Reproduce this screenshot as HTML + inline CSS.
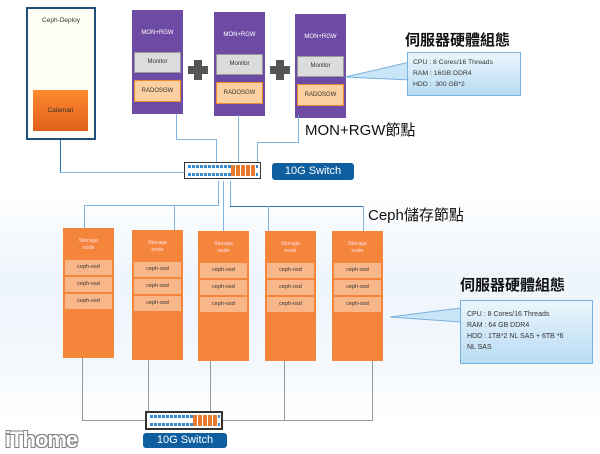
<!DOCTYPE html>
<html><head><meta charset="utf-8"><style>
body{margin:0;width:600px;height:454px;position:relative;overflow:hidden;font-family:"Liberation Sans","Noto Sans CJK TC",sans-serif;background:linear-gradient(#fff 0,#fff 190px,#eef5fb 280px,#f3f8fc 360px,#fff 420px)}
.a{position:absolute}
.mon{position:absolute;width:51px;height:104px;background:#6d4aa3;color:#fff;font-size:6px;text-align:center}
.mon .t{position:absolute;top:20px;width:100%}
.mon .m{position:absolute;left:2px;right:2px;top:42px;height:19px;background:#dcdcdc;border:1px solid #999;color:#333;line-height:19px}
.mon .r{position:absolute;left:2px;right:2px;top:70px;height:20px;background:#fcd0a0;border:1px solid #f08a30;color:#333;line-height:20px}
.sn{position:absolute;width:51px;height:130px;background:#f5853a;color:#fff;font-size:5.5px;text-align:center}
.sn .t{position:absolute;top:10px;width:100%;line-height:7px;color:#fde}
.sn .o{position:absolute;left:2px;right:2px;height:15px;background:#f9b688;color:#333;line-height:15px}
.plus{position:absolute;width:20px;height:20px}
.plus:before{content:"";position:absolute;left:6px;top:0;width:8px;height:20px;background:#555}
.plus:after{content:"";position:absolute;left:0;top:6px;width:20px;height:8px;background:#555}
.l{position:absolute;background:#7fb3e0}
.g{position:absolute;background:#999}
.sw{position:absolute;width:77px;height:17px;background:#fff;border:1.5px solid #333;box-sizing:border-box}
.lbl{position:absolute;background:#0f5e9f;color:#fff;font-size:11px;text-align:center;border-radius:3px;line-height:17px}
.box{position:absolute;background:linear-gradient(#eaf6fc,#b9dcf3);border:1px solid #7ab0dd;font-size:7px;color:#333;line-height:11px;padding:4px 5px;box-sizing:border-box}
</style></head><body>
<div class="a" style="left:26px;top:7px;width:70px;height:133px;border:2px solid #1f4e79;box-sizing:border-box;background:#fffef5"></div>
<div class="a" style="left:26px;top:17px;width:70px;text-align:center;font-size:6.5px;color:#333">Ceph-Deploy</div>
<div class="a" style="left:33px;top:90px;width:55px;height:41px;background:linear-gradient(#ff8a30,#e0601a);color:#333;font-size:6.5px;text-align:center;line-height:41px">Calamari</div>

<div class="mon" style="left:132px;top:10px"><div class="t">MON+RGW</div><div class="m">Monitor</div><div class="r">RADOSGW</div></div>
<div class="mon" style="left:214px;top:12px"><div class="t">MON+RGW</div><div class="m">Monitor</div><div class="r">RADOSGW</div></div>
<div class="mon" style="left:295px;top:14px"><div class="t">MON+RGW</div><div class="m">Monitor</div><div class="r">RADOSGW</div></div>
<div class="plus" style="left:188px;top:60px"></div>
<div class="plus" style="left:270px;top:60px"></div>

<div class="l" style="left:60px;top:140px;width:1px;height:33px;background:#2e75b6"></div>
<div class="l" style="left:60px;top:172px;width:124px;height:1px"></div>
<div class="l" style="left:176px;top:114px;width:1px;height:26px"></div>
<div class="l" style="left:176px;top:139px;width:40px;height:1px"></div>
<div class="l" style="left:216px;top:139px;width:1px;height:24px"></div>
<div class="l" style="left:238px;top:115px;width:1px;height:48px"></div>
<div class="l" style="left:298px;top:115px;width:1px;height:28px"></div>
<div class="l" style="left:257px;top:142px;width:42px;height:1px"></div>
<div class="l" style="left:257px;top:142px;width:1px;height:21px"></div>

<div class="sw" style="left:184px;top:162px"><div class="a" style="left:3px;top:2px;width:70px;height:3px;background:repeating-linear-gradient(90deg,#3a8ad0 0 3px,#fff 3px 4px)"></div><div class="a" style="left:3px;top:10px;width:70px;height:3px;background:repeating-linear-gradient(90deg,#3a8ad0 0 3px,#fff 3px 4px)"></div><div class="a" style="left:46px;top:2px;width:24px;height:11px;background:repeating-linear-gradient(90deg,#e87b30 0 4px,#fff 4px 5px)"></div></div>
<div class="lbl" style="left:272px;top:163px;width:82px">10G Switch</div>
<div class="a" style="left:305px;top:119px;font-size:15px;color:#111">MON+RGW節點</div>

<div class="a" style="left:405px;top:29px;font-size:15px;color:#111;font-weight:bold">伺服器硬體組態</div>
<svg class="a" style="left:345px;top:50px" width="70" height="40"><polygon points="0,27 65,12 65,30" fill="#c8e6f7" stroke="#7ab0dd"/></svg>
<div class="box" style="left:407px;top:52px;width:114px;height:44px;font-size:6.8px">CPU : 8 Cores/16 Threads<br>RAM : 16GB DDR4<br>HDD : &nbsp;300 GB*2</div>

<div class="l" style="left:218px;top:181px;width:1px;height:24px"></div>
<div class="l" style="left:84px;top:205px;width:135px;height:1px"></div>
<div class="l" style="left:84px;top:205px;width:1px;height:24px"></div>
<div class="l" style="left:174px;top:205px;width:1px;height:25px"></div>
<div class="l" style="left:223px;top:181px;width:1px;height:50px"></div>
<div class="l" style="left:230px;top:181px;width:1px;height:25px"></div>
<div class="l" style="left:230px;top:206px;width:134px;height:1px;background:#2e75b6"></div>
<div class="l" style="left:268px;top:206px;width:1px;height:25px"></div>
<div class="l" style="left:363px;top:206px;width:1px;height:25px"></div>
<div class="a" style="left:368px;top:204px;font-size:15px;color:#111">Ceph儲存節點</div>

<div class="sn" style="left:63px;top:228px"><div class="t">Storage<br>node</div><div class="o" style="top:32px">ceph-osd</div><div class="o" style="top:49px">ceph-osd</div><div class="o" style="top:66px">ceph-osd</div></div>
<div class="sn" style="left:132px;top:230px"><div class="t">Storage<br>node</div><div class="o" style="top:32px">ceph-osd</div><div class="o" style="top:49px">ceph-osd</div><div class="o" style="top:66px">ceph-osd</div></div>
<div class="sn" style="left:198px;top:231px"><div class="t">Storage<br>node</div><div class="o" style="top:32px">ceph-osd</div><div class="o" style="top:49px">ceph-osd</div><div class="o" style="top:66px">ceph-osd</div></div>
<div class="sn" style="left:265px;top:231px"><div class="t">Storage<br>node</div><div class="o" style="top:32px">ceph-osd</div><div class="o" style="top:49px">ceph-osd</div><div class="o" style="top:66px">ceph-osd</div></div>
<div class="sn" style="left:332px;top:231px"><div class="t">Storage<br>node</div><div class="o" style="top:32px">ceph-osd</div><div class="o" style="top:49px">ceph-osd</div><div class="o" style="top:66px">ceph-osd</div></div>

<div class="g" style="left:82px;top:358px;width:1px;height:63px"></div>
<div class="g" style="left:82px;top:420px;width:291px;height:1px"></div>
<div class="g" style="left:148px;top:360px;width:1px;height:51px"></div>
<div class="g" style="left:210px;top:361px;width:1px;height:50px"></div>
<div class="g" style="left:284px;top:361px;width:1px;height:60px"></div>
<div class="g" style="left:372px;top:361px;width:1px;height:60px"></div>
<div class="sw" style="left:145px;top:411px;width:78px;height:19px;border-width:2px"><div class="a" style="left:3px;top:2px;width:70px;height:3px;background:repeating-linear-gradient(90deg,#3a8ad0 0 3px,#fff 3px 4px)"></div><div class="a" style="left:3px;top:10px;width:70px;height:3px;background:repeating-linear-gradient(90deg,#3a8ad0 0 3px,#fff 3px 4px)"></div><div class="a" style="left:46px;top:2px;width:24px;height:11px;background:repeating-linear-gradient(90deg,#e87b30 0 4px,#fff 4px 5px)"></div></div>
<div class="lbl" style="left:143px;top:433px;width:84px;height:15px;line-height:15px">10G Switch</div>

<div class="a" style="left:460px;top:274px;font-size:15px;color:#111;font-weight:bold">伺服器硬體組態</div>
<svg class="a" style="left:385px;top:300px" width="80" height="30"><polygon points="5,17 76,8 76,22" fill="#c8e6f7" stroke="#7ab0dd"/></svg>
<div class="box" style="left:460px;top:300px;width:133px;height:64px;padding:8px 6px">CPU : 8 Cores/16 Threads<br>RAM : 64 GB DDR4<br>HDD : 1TB*2 NL SAS + 6TB *6<br>NL SAS</div>

<div class="a" style="left:5px;top:427px;font-size:22px;font-weight:bold;color:#fff;letter-spacing:-1px;text-shadow:0 0 1px #666,1px 1px 0 #888,-1px -1px 0 #888,1px -1px 0 #888,-1px 1px 0 #888">iThome</div>
</body></html>
